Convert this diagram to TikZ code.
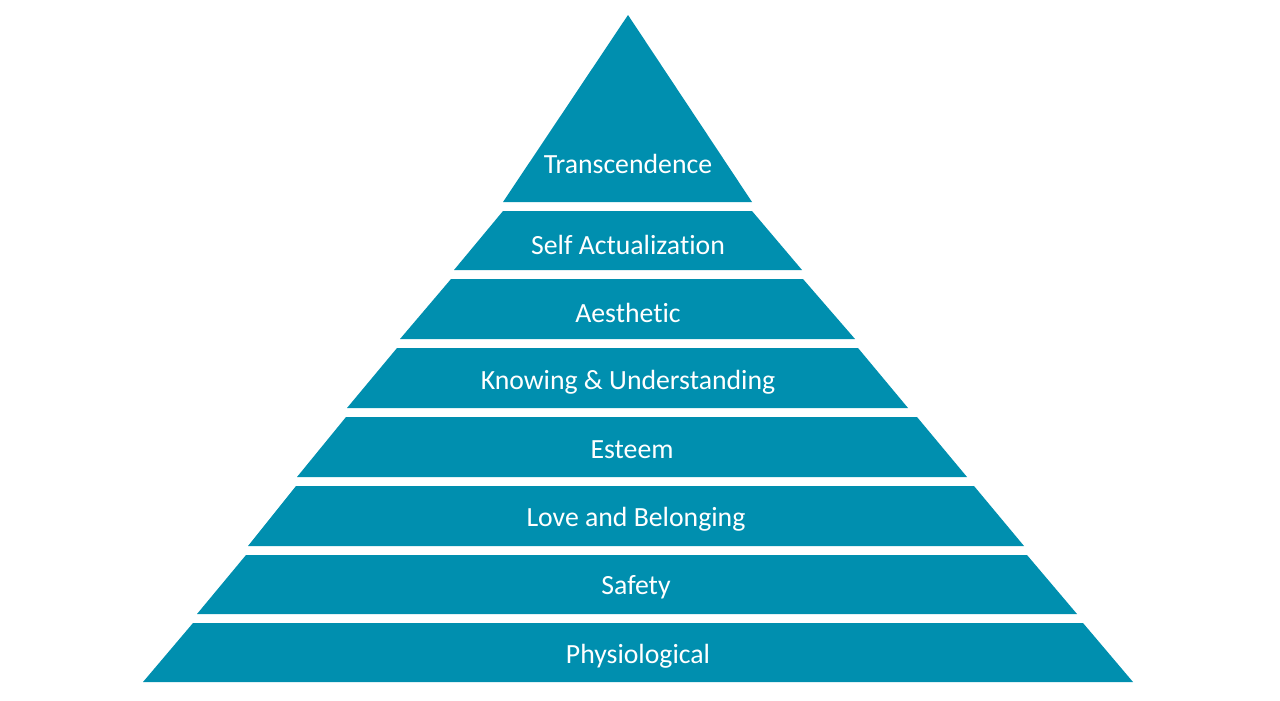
\documentclass[tikz,border=0pt]{standalone}
\usepackage{fontspec}
\setmainfont{Carlito}[Ligatures=NoCommon]
\definecolor{teal}{RGB}{0,143,175}

\begin{document}
\begin{tikzpicture}[x=0.02cm,y=-0.02cm,
        layer/.style={fill=teal},
        levelname/.style={text=white,font=\fontsize{15.8}{18}\selectfont}]
            \useasboundingbox (0,0) rectangle (1280,700);

            % top of the pyramid
            \fill[layer] (628,15) -- (752,202) -- (503,202) -- cycle;
            \node[levelname] (transcendence) at (628,164) {Transcendence};

            % the bands below it
            \fill[layer] (503,211) -- (752,211) -- (802,270) -- (454,270) -- cycle;
            \node[levelname] (selfact) at (628,245) {Self Actualization};

            \fill[layer] (451,279) -- (803,279) -- (855,339) -- (400,339) -- cycle;
            \node[levelname] (aesthetic) at (628,313) {Aesthetic};

            \fill[layer] (397,348) -- (858,348) -- (908,408) -- (347,408) -- cycle;
            \node[levelname] (knowing) at (628,382) {Knowing \& Understanding};

            \fill[layer] (346,417) -- (917,417) -- (967,477) -- (297,477) -- cycle;
            \node[levelname] (esteem) at (632,450) {Esteem};

            \fill[layer] (296,486) -- (974,486) -- (1024,546) -- (248,546) -- cycle;
            \node[levelname] (love) at (636,519) {Love and Belonging};

            \fill[layer] (246,555) -- (1027,555) -- (1077,614) -- (197,614) -- cycle;
            \node[levelname] (safety) at (636,587) {Safety};

            \fill[layer] (193,623) -- (1083,623) -- (1133,682) -- (143,682) -- cycle;
            \node[levelname] (physio) at (638,656) {Physiological};
        
        \end{tikzpicture}
\end{document}
